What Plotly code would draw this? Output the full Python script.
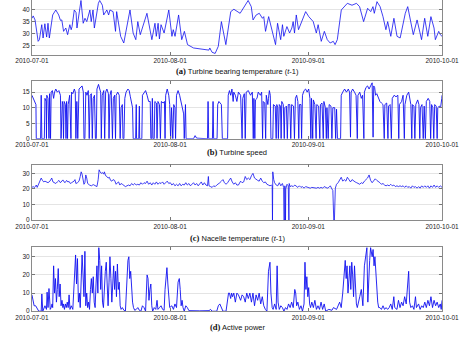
import numpy as np
import pandas as pd
import plotly.graph_objects as go

START = pd.Timestamp("2010-07-01")

# (a) turbine bearing temperature (t-1): day offset from 2010-07-01, value
bearing_day = [0.00, 0.28, 0.70, 1.39, 1.67, 2.20, 2.50, 2.90, 3.30, 3.60, 3.90, 4.30, 4.65, 5.35,
               6.00, 6.40, 6.70, 7.10, 7.60, 8.00, 8.50, 8.80, 9.00, 9.50, 9.90, 10.10, 10.60, 11.00,
               11.50, 11.90, 12.30, 13.00, 13.30, 13.70, 14.00, 14.90, 15.20, 15.80, 16.10, 16.80,
               17.20, 17.50, 18.20, 18.75, 19.00, 19.90, 20.60, 22.00, 22.70, 23.30, 23.75, 24.30,
               25.80, 26.90, 27.60, 27.90, 28.30, 28.60, 28.96, 29.30, 29.65, 30.70, 31.40, 31.70,
               32.10, 32.90, 33.60, 34.20, 34.90, 36.25, 38.30, 39.70, 39.90, 40.40, 41.10, 41.80,
               42.50, 43.50, 44.60, 45.30, 46.70, 48.50, 49.20, 49.60, 50.30, 51.00, 51.70, 52.00,
               52.40, 53.10, 54.65, 55.10, 55.80, 56.20, 56.50, 57.20, 57.80, 58.30, 58.60, 58.90,
               59.30, 59.80, 61.40, 62.10, 63.10, 63.80, 64.20, 64.90, 65.60, 66.25, 66.90, 67.60,
               68.00, 68.50, 69.40, 70.75, 71.80, 72.80, 73.50, 74.40, 75.30, 76.00, 76.50, 76.80,
               77.40, 78.10, 78.75, 79.40, 79.80, 80.50, 81.20, 81.90, 82.60, 83.30, 83.75, 84.30,
               85.00, 85.55, 86.40, 87.40, 88.10, 88.80, 89.50, 90.20, 90.50, 91.25, 91.60, 92.00]
bearing_temp = [36.5, 37.5, 35.8, 26.8, 27.5, 33.8, 28.2, 34.2, 28.6, 34.4, 28.2, 34.4, 37.9, 40.0,
                37.9, 35.6, 35.8, 31.0, 32.4, 29.6, 33.8, 31.7, 33.0, 40.0, 38.9, 32.4, 38.3, 44.0,
                34.4, 36.5, 35.1, 40.0, 35.1, 40.0, 32.4, 42.8, 44.0, 42.0, 37.9, 40.0,
                37.9, 40.0, 39.3, 31.0, 39.3, 28.9, 26.1, 40.0, 30.3, 27.5, 35.1, 29.6,
                38.6, 27.5, 34.4, 28.9, 34.4, 27.8, 33.8, 31.7, 30.3, 40.0, 28.9, 31.7,
                28.9, 37.9, 27.5, 31.0, 25.4, 24.0, 23.3, 23.1, 24.0, 22.2, 21.7, 24.7,
                35.1, 25.4, 39.3, 40.3, 38.6, 44.0, 41.4, 35.8, 37.9, 38.6, 36.5, 37.2,
                31.0, 37.2, 25.4, 34.4, 27.5, 33.8, 28.9, 33.0, 30.3, 32.4, 35.1, 30.3,
                37.9, 31.7, 39.3, 37.2, 35.1, 30.3, 33.8, 26.8, 31.0, 27.5, 26.1, 26.8,
                25.4, 27.5, 40.0, 42.8, 42.0, 42.8, 41.4, 35.1, 40.7, 39.3, 41.4, 38.6,
                43.5, 41.4, 37.2, 31.7, 35.1, 28.9, 36.5, 28.9, 28.2, 34.4, 38.6, 41.4,
                33.8, 29.6, 35.8, 27.5, 36.5, 28.9, 37.2, 32.4, 27.5, 31.0, 29.6, 28.9]

# (b) turbine speed
speed_day = [0.00, 0.28, 0.69, 0.90, 0.97, 1.94, 2.08, 2.22, 2.78, 2.92, 3.19, 3.26, 3.33, 3.61,
             3.68, 3.82, 3.96, 4.17, 4.31, 4.58, 4.86, 5.07, 5.35, 5.69, 6.04, 6.39, 6.53, 6.81,
             6.94, 7.08, 7.22, 7.50, 7.64, 7.78, 7.99, 8.13, 8.47, 8.75, 8.89, 9.17, 9.51, 9.72,
             9.86, 10.07, 10.28, 10.56, 10.90, 11.25, 11.53, 11.67, 11.88, 12.08, 12.36, 12.64,
             12.85, 13.06, 13.33, 13.54, 13.75, 14.03, 14.24, 14.44, 14.58, 14.93, 15.21, 15.42,
             15.56, 15.76, 16.11, 16.32, 16.53, 16.81, 17.15, 17.29, 17.50, 17.78, 18.06, 18.26,
             18.54, 18.75, 18.89, 19.24, 19.58, 19.79, 20.00, 20.28, 20.42, 20.63, 20.83, 21.11,
             21.53, 21.81, 22.08, 22.36, 22.57, 22.71, 23.26, 23.40, 23.47, 23.96, 24.10, 24.17,
             24.65, 24.79, 25.14, 25.49, 25.83, 26.18, 26.53, 26.67, 26.88, 27.01, 27.15, 27.43,
             27.57, 27.92, 28.06, 28.26, 28.61, 28.82, 29.03, 29.44, 29.72, 29.86, 30.00, 30.35,
             30.69, 30.90, 31.11, 31.32, 31.60, 31.81, 32.08, 32.22, 32.43, 32.78, 33.13, 33.47,
             33.82, 34.03, 34.17, 34.44, 34.58, 36.25, 36.60, 36.94, 39.38, 39.51, 39.65, 40.49,
             40.63, 40.76, 41.53, 41.67, 41.94, 42.22, 42.50, 42.71, 43.89, 44.03, 44.31, 44.58,
             44.86, 45.14, 45.28, 45.63, 45.97, 46.32, 46.81, 47.15, 47.29, 47.64, 47.85, 48.06,
             48.54, 49.03, 49.44, 49.65, 49.79, 50.00, 50.14, 50.49, 50.76, 51.25, 51.53, 51.74,
             51.88, 52.22, 52.43, 52.57, 52.92, 53.06, 53.26, 53.47, 53.61, 54.03, 54.17, 54.58,
             54.79, 54.93, 55.14, 55.28, 55.49, 55.76, 55.90, 56.04, 56.39, 56.60, 56.74, 57.08,
             57.29, 57.50, 57.85, 58.06, 58.26, 58.68, 58.89, 59.10, 59.38, 59.65, 59.86, 60.00,
             60.35, 60.49, 60.69, 61.04, 61.39, 61.74, 62.08, 62.36, 62.57, 62.71, 62.99, 63.13,
             63.47, 63.75, 63.89, 64.31, 64.58, 64.72, 65.07, 65.35, 65.49, 65.83, 66.04, 66.18,
             66.46, 66.67, 67.08, 67.29, 67.50, 67.92, 68.13, 68.33, 68.54, 69.24, 69.38, 69.72,
             70.14, 70.56, 70.97, 71.25, 71.46, 71.60, 71.94, 72.36, 72.71, 72.99, 73.13, 73.54,
             73.89, 74.17, 74.46, 74.58, 74.93, 75.28, 75.63, 75.97, 76.32, 76.53, 76.67, 76.88,
             77.08, 77.36, 77.71, 78.06, 78.40, 78.75, 79.03, 79.17, 79.58, 79.86, 80.00, 80.35,
             80.63, 80.83, 81.25, 81.67, 82.08, 82.29, 82.43, 82.92, 83.26, 83.54, 83.68, 84.10,
             84.51, 84.79, 85.00, 85.21, 85.35, 85.69, 85.90, 86.11, 86.53, 86.81, 87.01, 87.15,
             87.50, 87.78, 87.99, 88.26, 88.47, 88.89, 89.24, 89.44, 89.65, 89.93, 90.14, 90.35,
             90.69, 90.90, 91.04, 91.39, 91.67, 91.94, 92.00]
speed_val = [14, 13, 11.5, 11, 0, 0, 14, 0, 0, 13, 12, 0, 14, 13,
             0, 0, 14.5, 0, 15, 15.5, 13, 15, 16, 15, 15.5, 14, 0, 12,
             11, 0, 12, 11, 0, 12, 0, 11, 14, 0, 15, 14.5, 16, 15,
             0, 12, 0, 16, 16.5, 17, 15, 0, 0, 15, 14, 15.5,
             0, 14, 14.5, 0, 13, 14, 0, 0, 16, 17.5, 16, 15,
             0, 14, 15.5, 0, 15, 16, 14.5, 0, 14, 15.5, 0, 13,
             14, 0, 14, 15, 14, 0, 10, 11, 0, 0, 13, 15,
             16, 15.5, 13.5, 11, 10, 0, 0, 11, 0, 0, 10.5, 0,
             0, 14, 15, 15.5, 14, 12, 12, 0, 0, 13, 0, 0,
             12, 11.5, 0, 12, 11, 0, 12, 11.5, 12, 0, 14, 16,
             14, 11, 0, 10, 0, 11, 10, 0, 14, 15.5, 14, 12,
             10, 8, 0, 11, 0, 0, 1, 0.2, 0, 12, 0, 0,
             12, 0, 0, 11, 12, 11.5, 11, 0, 0, 14, 15.5, 14,
             16, 12, 15, 14, 12, 15, 14, 0, 13, 14.5, 0, 15,
             15.5, 14, 15, 0, 13, 0, 12.5, 13, 15, 14, 15, 0,
             12, 11.5, 0, 14, 11, 13, 15.5, 14, 0, 0, 11, 10.5,
             0, 11, 10, 0, 11, 10.5, 0, 12, 11, 0, 10, 10.5,
             0, 11, 11, 0, 11, 10.5, 0, 13, 14, 12, 0, 11,
             11, 0, 14, 15.5, 16, 15, 16, 13, 0, 13, 0, 12.5,
             11, 0, 11, 10.5, 0, 11, 11.5, 0, 12, 10, 0, 10,
             0, 11, 10.5, 0, 10, 10, 0, 9.5, 0, 0, 14, 15,
             16, 15, 16, 15, 0.5, 15, 16, 15, 14, 0, 14, 15,
             13, 14, 0, 15, 16.5, 17, 16, 17, 18, 0.5, 17, 16.5,
             14, 14.5, 13, 12, 11.5, 11, 0, 11, 11.5, 0, 10.5, 11,
             0, 13, 14, 13.5, 14, 0, 11, 12, 14, 0, 11, 14,
             15, 13, 11, 0, 11, 10.5, 0, 11, 12.5, 11, 0, 10,
             11, 0, 10.5, 0, 12, 13, 12, 0, 11, 10, 0, 11,
             10.5, 0, 10, 10.5, 10, 13, 14]

# (c) nacelle temperature (t-1)
nacelle_day = [0.00, 0.28, 0.56, 0.83, 0.97, 1.18, 1.53, 1.81, 2.08, 2.36, 2.64, 2.92, 3.26, 3.61,
               4.03, 4.44, 4.72, 5.00, 5.35, 5.69, 6.04, 6.39, 6.74, 6.94, 7.22, 7.43, 7.78, 8.06,
               8.33, 8.61, 8.89, 9.17, 9.44, 9.65, 9.86, 10.21, 10.56, 10.83, 11.04, 11.25, 11.46,
               11.67, 11.88, 12.08, 12.29, 12.50, 12.92, 13.33, 13.75, 14.17, 14.58, 14.86, 15.07,
               15.28, 15.56, 15.83, 16.11, 16.25, 16.53, 16.81, 17.08, 17.36, 17.64, 17.92, 18.19,
               18.54, 18.89, 19.17, 19.44, 19.72, 20.00, 20.28, 20.63, 20.97, 21.32, 21.67, 22.01,
               22.36, 22.71, 23.06, 23.40, 23.75, 24.10, 24.44, 24.79, 25.14, 25.49, 25.83, 26.18,
               26.53, 26.88, 27.22, 27.57, 27.92, 28.26, 28.61, 28.96, 29.31, 29.65, 30.00, 30.35,
               30.69, 31.04, 31.39, 31.74, 32.08, 32.43, 32.78, 33.13, 33.47, 33.82, 34.17, 34.51,
               34.86, 35.21, 35.56, 35.90, 36.25, 36.60, 36.94, 37.29, 37.64, 37.99, 38.33, 38.68,
               39.03, 39.38, 39.58, 39.72, 40.07, 40.42, 40.76, 41.11, 41.46, 41.81, 42.15, 42.50,
               42.85, 43.19, 43.54, 43.89, 44.24, 44.58, 44.93, 45.28, 45.63, 45.97, 46.32, 46.81,
               47.15, 47.50, 47.85, 48.19, 48.54, 48.89, 49.24, 49.58, 49.93, 50.28, 50.63, 50.97,
               51.32, 51.67, 52.01, 52.36, 52.71, 53.06, 53.40, 53.75, 53.89, 53.96, 54.03, 54.24,
               54.44, 54.79, 55.14, 55.49, 55.83, 56.18, 56.46, 56.53, 56.67, 56.74, 56.88, 56.94,
               57.22, 57.50, 57.57, 57.64, 57.71, 57.92, 58.26, 58.61, 58.96, 59.31, 59.65, 60.00,
               60.35, 60.69, 61.04, 61.39, 61.74, 62.08, 62.43, 62.78, 63.13, 63.47, 63.82, 64.17,
               64.51, 64.86, 65.21, 65.56, 65.90, 66.25, 66.60, 66.94, 67.29, 67.50, 67.71, 67.85,
               68.06, 68.33, 68.68, 69.03, 69.38, 69.72, 70.07, 70.42, 70.76, 71.11, 71.46, 71.81,
               72.15, 72.50, 72.85, 73.19, 73.54, 73.89, 74.24, 74.58, 74.93, 75.28, 75.63, 75.97,
               76.32, 76.67, 77.01, 77.36, 77.71, 78.06, 78.40, 78.75, 79.10, 79.44, 79.79, 80.14,
               80.49, 80.83, 81.18, 81.53, 81.88, 82.22, 82.57, 82.92, 83.26, 83.61, 83.96, 84.31,
               84.65, 85.00, 85.35, 85.69, 86.04, 86.39, 86.74, 87.08, 87.43, 87.78, 88.13, 88.47,
               88.82, 89.17, 89.51, 89.86, 90.21, 90.56, 90.90, 91.25, 91.60, 92.00]
nacelle_temp = [21, 21.5, 20.8, 21.5, 22.5, 21, 23, 25, 27, 25.5, 24.5, 25, 24.5, 24,
                25, 27, 24.5, 24, 23.5, 24.5, 25.5, 24, 25, 25.8, 24.5, 24, 25.5, 24.5,
                24.8, 23.5, 24, 24.5, 25, 26, 23.5, 24, 25, 28, 31, 29.5, 26,
                23, 24, 29, 27, 23.5, 22.5, 22, 22.8, 22, 21.5, 26, 32.3,
                31, 30, 30.5, 29.5, 31, 28.5, 28, 27, 27.5, 25.5, 25, 26,
                25.5, 23, 24, 24.5, 22.5, 23.5, 23, 22, 21.5, 22, 22.5, 22,
                23.5, 22.5, 23.5, 22.5, 23, 22.5, 24, 23, 24, 23.5, 25, 23,
                24, 22.5, 24, 23, 24.5, 23, 24, 23.5, 24.5, 23, 24, 25,
                23.5, 24, 22.5, 23.5, 22, 23, 22, 23.5, 22, 23, 22.5, 24,
                22.5, 23.5, 22, 23, 24, 22.5, 23.5, 22, 23, 24.5, 22.5, 24,
                22.5, 22, 28, 22, 21.5, 21, 22, 21.5, 22.5, 23, 24, 25,
                26, 24, 23, 24, 25.5, 27, 24.5, 23, 24, 22.5, 22.5, 25,
                24, 24.5, 28, 26, 27, 26, 28.5, 30, 27, 26, 25.5, 25,
                27, 25, 24, 24.5, 23, 22.5, 22, 22.5, 22, 0, 31, 26,
                24, 22.5, 22, 24, 22, 23.5, 21, 0, 0, 22, 0, 20,
                23, 22, 0, 0, 23.5, 21.5, 22, 21.5, 22.5, 21.5, 21, 22,
                21, 21.5, 20.5, 21.5, 21, 21, 20.5, 21, 20.8, 21, 20.5, 21,
                20.5, 21, 20.5, 21.5, 20.8, 20.5, 21, 22, 20, 19, 0, 0,
                20.5, 23, 24, 25.5, 27.5, 25, 26, 25, 27.5, 26, 24.5, 26,
                25, 24.5, 24, 23.5, 23, 24, 23.5, 25, 26, 27, 29, 25.5,
                24, 25, 26.5, 25.5, 25, 24, 23, 23.5, 22.5, 22, 22.5, 22,
                23, 22, 22.5, 21.5, 22, 21.5, 22, 21.5, 22, 21, 22, 21,
                21.5, 20.5, 22, 21, 21.5, 20.5, 21.5, 20.5, 22, 21, 22, 21,
                22, 20.5, 22, 21, 22.5, 21, 22, 21, 22, 21]

# (d) active power
power_day = [0.00, 0.21, 0.49, 0.83, 1.18, 1.53, 2.08, 2.22, 2.43, 2.92, 3.26, 3.40, 3.61, 3.82,
             4.10, 4.31, 4.51, 4.65, 4.86, 5.07, 5.28, 5.49, 5.69, 5.90, 6.11, 6.32, 6.53, 6.74,
             6.94, 7.08, 7.29, 7.50, 7.71, 7.92, 8.13, 8.33, 8.54, 8.82, 9.17, 9.38, 9.58, 9.79,
             10.00, 10.21, 10.42, 10.63, 10.83, 11.04, 11.25, 11.46, 11.67, 11.88, 12.08, 12.29,
             12.50, 12.71, 12.92, 13.13, 13.33, 13.54, 13.75, 13.96, 14.17, 14.38, 14.58, 14.79,
             15.00, 15.21, 15.42, 15.63, 15.83, 16.04, 16.25, 16.46, 16.67, 16.88, 17.08, 17.29,
             17.50, 17.71, 17.92, 18.13, 18.33, 18.54, 18.75, 18.96, 19.17, 19.38, 19.58, 19.79,
             20.00, 20.28, 20.63, 20.97, 21.32, 21.53, 21.74, 21.94, 22.15, 22.36, 22.57, 22.78,
             23.06, 23.40, 23.75, 24.10, 24.44, 24.79, 25.14, 25.49, 25.83, 26.04, 26.25, 26.46,
             26.67, 26.88, 27.08, 27.43, 27.78, 28.06, 28.26, 28.61, 28.96, 29.31, 29.65, 29.86,
             30.07, 30.28, 30.49, 30.69, 30.90, 31.39, 31.74, 32.08, 32.43, 32.78, 33.06, 33.26,
             33.47, 33.68, 33.89, 34.17, 34.51, 34.86, 35.21, 37.64, 39.72, 40.07, 40.42, 41.46,
             41.81, 42.15, 42.50, 42.85, 43.54, 43.89, 44.10, 44.31, 44.58, 44.79, 45.00, 45.28,
             45.63, 45.97, 46.32, 46.81, 47.15, 47.50, 47.85, 48.19, 48.54, 48.89, 49.24, 49.58,
             49.93, 50.28, 50.63, 50.97, 51.32, 51.67, 52.01, 52.36, 52.71, 53.06, 53.40, 53.61,
             53.89, 54.10, 54.44, 54.79, 55.00, 55.21, 55.49, 55.83, 56.18, 56.53, 56.88, 57.22,
             57.57, 57.92, 58.26, 58.61, 58.96, 59.17, 59.38, 59.65, 60.00, 60.35, 60.69, 61.04,
             61.25, 61.46, 61.67, 61.88, 62.08, 62.29, 62.50, 62.78, 63.13, 63.47, 63.82, 64.17,
             64.51, 64.86, 65.21, 65.56, 65.90, 66.60, 67.29, 67.64, 68.33, 69.03, 69.38, 69.72,
             70.07, 70.28, 70.49, 70.69, 70.90, 71.11, 71.32, 71.53, 71.74, 71.94, 72.15, 72.36,
             72.57, 72.78, 72.99, 73.19, 73.54, 73.89, 74.24, 74.58, 74.93, 75.14, 75.35, 75.49,
             75.76, 75.97, 76.32, 76.53, 76.74, 76.94, 77.15, 77.36, 77.57, 77.78, 78.06, 78.40,
             78.75, 79.10, 79.44, 79.79, 80.14, 80.49, 80.83, 81.18, 81.39, 81.88, 82.22, 82.57,
             82.92, 83.26, 83.61, 83.96, 84.31, 84.51, 84.72, 85.00, 85.35, 85.69, 86.04, 86.25,
             86.74, 87.08, 87.43, 87.78, 88.13, 88.47, 88.82, 89.17, 89.51, 89.86, 90.21, 90.56,
             90.90, 91.25, 91.60, 91.81, 92.00]
power_val = [9, 6, 3, 3, 1, 0, 0, 9.5, 0, 3, 1, 10.5, 2, 12.5,
             1, 2, 4, 2, 25, 10, 18, 5, 12, 23.5, 8, 15, 3, 6,
             2, 4, 1, 4, 2, 5, 2, 9, 1, 3, 1, 12, 25, 31,
             15, 29, 5, 10, 2, 15, 31, 20, 8, 33, 3, 10,
             2, 5, 1, 12, 18, 10, 19, 5, 2, 15, 25, 10,
             35, 28, 12, 25, 5, 2, 18, 22, 27, 10, 3, 16,
             30, 18, 5, 15, 25, 12, 22, 8, 26, 12, 16, 3,
             1, 2, 0.5, 0, 20, 28, 30, 18, 22, 10, 5, 2,
             0.5, 1, 2, 0.5, 0, 3, 2, 0, 20, 18, 6, 12,
             15, 3, 0, 2, 1, 6, 1, 2, 3, 1, 0.5, 12,
             19, 24, 15, 8, 2, 3, 1, 4, 2, 16, 18, 12,
             3, 6, 2, 0, 3, 2, 0.3, 0.2, 0.3, 1, 0, 0,
             3, 4, 2, 0, 0, 5, 10, 10, 7, 10, 8, 10,
             5, 10, 9, 6, 9, 8, 5, 10, 7, 10, 5, 10,
             3, 9, 6, 10, 4, 8, 3, 1, 0, 22, 27, 10,
             2, 1, 4, 1, 25, 5, 1, 3, 2, 0, 2, 1,
             4, 2, 5, 2, 12, 10, 3, 5, 1, 3, 0, 4,
             27, 12, 19, 8, 13, 4, 2, 5, 2, 6, 1, 3,
             1, 5, 1, 4, 0, 1, 0.5, 2, 1, 5, 2, 10,
             22, 28, 18, 25, 10, 18, 25, 12, 27, 20, 8, 25,
             12, 4, 2, 5, 8, 12, 3, 25, 32, 35, 5, 18,
             28, 35, 30, 34, 25, 30, 20, 15, 5, 2, 2, 1,
             3, 1, 2, 1, 2, 4, 1, 8, 2, 1, 6, 2,
             5, 3, 8, 4, 20, 22, 5, 2, 3, 1, 8, 2,
             4, 1, 3, 2, 5, 2, 6, 3, 8, 2, 6, 3,
             5, 2, 4, 1, 6]

# x-axis ticks shared by every panel
tick_dates = ["2010-07-01", "2010-08-01", "2010-09-01", "2010-10-01"]
tick_text = ["2010-07-01", "2010-08-01", "2010-09-01", "2010-10-01"]
x_range = ["2010-06-30 23:30", "2010-10-01 00:30"]

# panel captions
captions = [
    ("(a)", "Turbine bearing temperature (<i>t</i>-1)"),
    ("(b)", "Turbine speed"),
    ("(c)", "Nacelle temperature (<i>t</i>-1)"),
    ("(d)", "Active power"),
]

W, H = 474, 338
X0, X1 = 16, 458


def yfrac(px):
    return 1 - px / H


def to_time(days):
    return START + pd.to_timedelta(np.asarray(days, dtype=float), unit="D")


series = [
    (bearing_day, bearing_temp, 0.8),
    (speed_day, speed_val, 0.9),
    (nacelle_day, nacelle_temp, 0.8),
    (power_day, power_val, 0.9),
]
# panel geometry: (top px, bottom px, y range, y ticks, caption centre px)
panels = [
    (0, 55, [21.25, 44.2], [25, 30, 35, 40], 72),
    (82, 140, [0, 18.5], [0, 5, 10, 15], 153),
    (166, 222, [0, 35.7], [0, 10, 20, 30], 240),
    (249, 314, [0, 35.5], [0, 10, 20, 30], 330),
]

tick_font = dict(family="Liberation Sans, Arial", size=6.5, color="#222")
fig = go.Figure()
layout = dict(
    width=W, height=H, autosize=False,
    margin=dict(l=0, r=0, t=0, b=0),
    paper_bgcolor="white", plot_bgcolor="white",
    showlegend=False,
)
annotations = []
for i, ((days, vals, lw), (top, bot, yr, yt, cap_y)) in enumerate(zip(series, panels), start=1):
    xa = "x" if i == 1 else f"x{i}"
    ya = "y" if i == 1 else f"y{i}"
    fig.add_trace(go.Scatter(
        x=to_time(days), y=vals, mode="lines",
        line=dict(color="#1010f0", width=lw),
        xaxis=xa, yaxis=ya, hoverinfo="skip",
    ))
    layout["xaxis" if i == 1 else f"xaxis{i}"] = dict(
        domain=[X0 / W, X1 / W], anchor=ya,
        type="date", range=x_range,
        tickmode="array", tickvals=tick_dates, ticktext=tick_text,
        ticks="inside", ticklen=3, tickcolor="#777", tickwidth=0.8,
        showline=True, linecolor="#8a8a8a", linewidth=0.8,
        mirror=(i != 1) and "ticks",
        showgrid=False, zeroline=False, tickfont=tick_font,
        ticklabeloverflow="allow",
    )
    layout["yaxis" if i == 1 else f"yaxis{i}"] = dict(
        domain=[yfrac(bot), yfrac(top)], anchor=xa,
        range=yr, tickmode="array", tickvals=yt,
        ticks="inside", ticklen=3, tickcolor="#777", tickwidth=0.8,
        showline=True, linecolor="#8a8a8a", linewidth=0.8, mirror="ticks",
        showgrid=True, gridcolor="#e4e4e4", gridwidth=0.6,
        zeroline=False, tickfont=tick_font, ticklabeloverflow="allow",
    )
    lab, txt = captions[i - 1]
    annotations.append(dict(
        xref="paper", yref="paper", x=(X0 + X1) / 2 / W, y=yfrac(cap_y),
        xanchor="center", yanchor="middle", showarrow=False,
        text=f"<span style=\"font-family:'Liberation Serif';font-weight:bold;font-size:8.5px\">{lab}</span> {txt}",
        font=dict(family="Liberation Sans, Arial", size=7.5, color="#111"),
    ))
layout["annotations"] = annotations
fig.update_layout(**layout)
fig.write_html("out.html")
